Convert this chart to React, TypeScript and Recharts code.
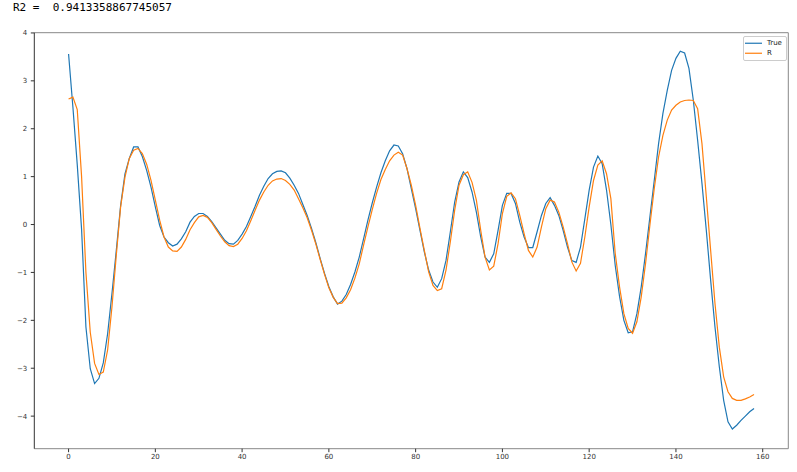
import { Legend, Line, LineChart, ReferenceLine, XAxis, YAxis } from "recharts"

// values, index 0..158
const trueValues = [
  3.56, 2.45, 1.25, -0.1, -2.14, -3.01, -3.32, -3.21, -2.89, -2.28,
  -1.44, -0.54, 0.4, 1.06, 1.38, 1.62, 1.62, 1.42, 1.13, 0.78,
  0.37, -0.02, -0.26, -0.38, -0.45, -0.41, -0.3, -0.15, 0.05, 0.17,
  0.23, 0.23, 0.17, 0.06, -0.07, -0.2, -0.33, -0.4, -0.41, -0.33,
  -0.2, -0.04, 0.17, 0.38, 0.61, 0.8, 0.96, 1.06, 1.11, 1.12,
  1.08, 0.97, 0.82, 0.65, 0.42, 0.19, -0.08, -0.38, -0.71, -1.02,
  -1.3, -1.51, -1.66, -1.6, -1.46, -1.25, -0.99, -0.68, -0.3, 0.09,
  0.45, 0.78, 1.08, 1.33, 1.54, 1.66, 1.64, 1.48, 1.17, 0.75,
  0.33, -0.12, -0.57, -0.95, -1.2, -1.31, -1.13, -0.75, -0.15, 0.47,
  0.89, 1.1, 0.98, 0.68, 0.26, -0.26, -0.68, -0.79, -0.61, -0.12,
  0.4, 0.65, 0.65, 0.44, 0.05, -0.26, -0.48, -0.48, -0.15, 0.19,
  0.44, 0.56, 0.4, 0.19, -0.12, -0.47, -0.75, -0.79, -0.47, 0.12,
  0.72, 1.2, 1.43, 1.27, 0.72, 0.0, -0.85, -1.5, -2.0, -2.26,
  -2.24, -1.86, -1.3, -0.6, 0.16, 0.92, 1.69, 2.32, 2.8, 3.22,
  3.47, 3.62, 3.58, 3.26, 2.6, 1.76, 0.86, -0.12, -1.16, -2.14,
  -2.97, -3.67, -4.12, -4.27, -4.19, -4.09, -4.0, -3.91, -3.84,
]

const rValues = [
  2.62, 2.66, 2.4, 1.0, -1.0, -2.25, -2.9, -3.13, -3.08, -2.62,
  -1.72, -0.64, 0.37, 0.99, 1.38, 1.55, 1.59, 1.48, 1.26, 0.92,
  0.51, 0.09, -0.26, -0.47, -0.55, -0.56, -0.47, -0.31, -0.11, 0.04,
  0.16, 0.19, 0.15, 0.04, -0.1, -0.24, -0.36, -0.44, -0.46, -0.41,
  -0.29, -0.13, 0.08, 0.3, 0.51, 0.68, 0.82, 0.91, 0.95, 0.96,
  0.92, 0.84, 0.72, 0.54, 0.35, 0.14, -0.12, -0.41, -0.73, -1.04,
  -1.32, -1.52, -1.65, -1.64, -1.53, -1.36, -1.12, -0.82, -0.43, -0.05,
  0.31, 0.65, 0.94, 1.15, 1.33, 1.45, 1.51, 1.45, 1.17, 0.82,
  0.4, -0.08, -0.54, -0.99, -1.27, -1.38, -1.34, -0.95, -0.36, 0.3,
  0.82, 1.04, 1.1, 0.88, 0.51, -0.12, -0.68, -0.95, -0.87, -0.4,
  0.23, 0.59, 0.66, 0.54, 0.19, -0.19, -0.54, -0.68, -0.47, -0.05,
  0.33, 0.51, 0.47, 0.26, -0.05, -0.4, -0.78, -0.97, -0.81, -0.26,
  0.37, 0.92, 1.24, 1.33, 1.06, 0.54, -0.6, -1.3, -1.86, -2.17,
  -2.27, -2.03, -1.51, -0.81, -0.01, 0.75, 1.41, 1.86, 2.18, 2.39,
  2.49, 2.56, 2.59, 2.6, 2.59, 2.42, 1.69, 0.58, -0.54, -1.65,
  -2.56, -3.18, -3.49, -3.63, -3.67, -3.67, -3.64, -3.6, -3.55,
]

const seriesNames = ["True", "R"]
const xTicks = [0, 20, 40, 60, 80, 100, 120, 140, 160]
const yTicks = [-4, -3, -2, -1, 0, 1, 2, 3, 4]

const r2Text = "R2 =  0.9413358867745057"

const data = trueValues.map((v, i) => ({ x: i, trueV: v, r: rValues[i] }))

const xDomain: [number, number] = [-7.9, 165.9]
const yDomain: [number, number] = [-4.68, 4.005]

const tickFont = { fontSize: 7, fontFamily: "DejaVu Sans", fill: "#333" }
const fmt = (v: number) => (v < 0 ? `\u2212${Math.abs(v)}` : `${v}`)

function LegendBox(props: any) {
  // keep plotting order, recharts sorts the payload by name
  const items = [...(props.payload || [])].sort(
    (a: any, b: any) => seriesNames.indexOf(a.value) - seriesNames.indexOf(b.value)
  )
  return (
    <div
      style={{
        border: "1px solid #ccc",
        borderRadius: 2,
        background: "#fff",
        padding: "1px 4px 1px 1px",
        fontFamily: "DejaVu Sans",
        fontSize: 7,
        color: "#222",
      }}
    >
      {items.map((it: any) => (
        <div key={it.value} style={{ display: "flex", alignItems: "center", height: 10.5 }}>
          <svg width={17} height={10.5} style={{ display: "block" }}>
            <line x1={0} x2={17} y1={5.25} y2={5.25} stroke={it.color} strokeWidth={1.2} />
          </svg>
          <span style={{ marginLeft: 5.5, lineHeight: "10.5px" }}>{it.value}</span>
        </div>
      ))}
    </div>
  )
}

export default function App() {
  return (
    <div style={{ position: "absolute", left: 0, top: 0, width: 797, height: 472, background: "#fff" }}>
      <div
        style={{
          position: "absolute",
          left: 13,
          top: 2,
          fontFamily: "DejaVu Sans Mono",
          fontSize: 11,
          lineHeight: "11px",
          whiteSpace: "pre",
          color: "#000",
        }}
      >
        {r2Text}
      </div>
      <LineChart
        width={797}
        height={472}
        data={data}
        margin={{ top: 32.7, right: 8.7, bottom: 0, left: 0 }}
      >
        <XAxis
          dataKey="x"
          type="number"
          domain={xDomain}
          ticks={xTicks}
          allowDataOverflow
          height={23.3}
          tickSize={3.5}
          tickMargin={2}
          tick={tickFont}
          tickLine={{ stroke: "#333" }}
          axisLine={{ stroke: "#888" }}
        />
        <YAxis
          type="number"
          domain={yDomain}
          ticks={yTicks}
          allowDataOverflow
          width={34.3}
          tickSize={3.5}
          tickMargin={3.5}
          tick={tickFont}
          tickFormatter={fmt}
          tickLine={{ stroke: "#333" }}
          axisLine={{ stroke: "#333" }}
        />
        {/* top and right spines */}
        <ReferenceLine y={yDomain[1]} stroke="#888" strokeWidth={1} />
        <ReferenceLine x={xDomain[1]} stroke="#888" strokeWidth={1} />
        <Legend
          layout="vertical"
          align="center"
          verticalAlign="middle"
          wrapperStyle={{ left: 742.5, top: 35.5, width: "auto", height: "auto" }}
          content={LegendBox}
        />
        <Line
          name="True"
          dataKey="trueV"
          type="linear"
          stroke="#1f77b4"
          strokeWidth={1.2}
          dot={false}
          isAnimationActive={false}
        />
        <Line
          name="R"
          dataKey="r"
          type="linear"
          stroke="#ff7f0e"
          strokeWidth={1.2}
          dot={false}
          isAnimationActive={false}
        />
      </LineChart>
    </div>
  )
}
